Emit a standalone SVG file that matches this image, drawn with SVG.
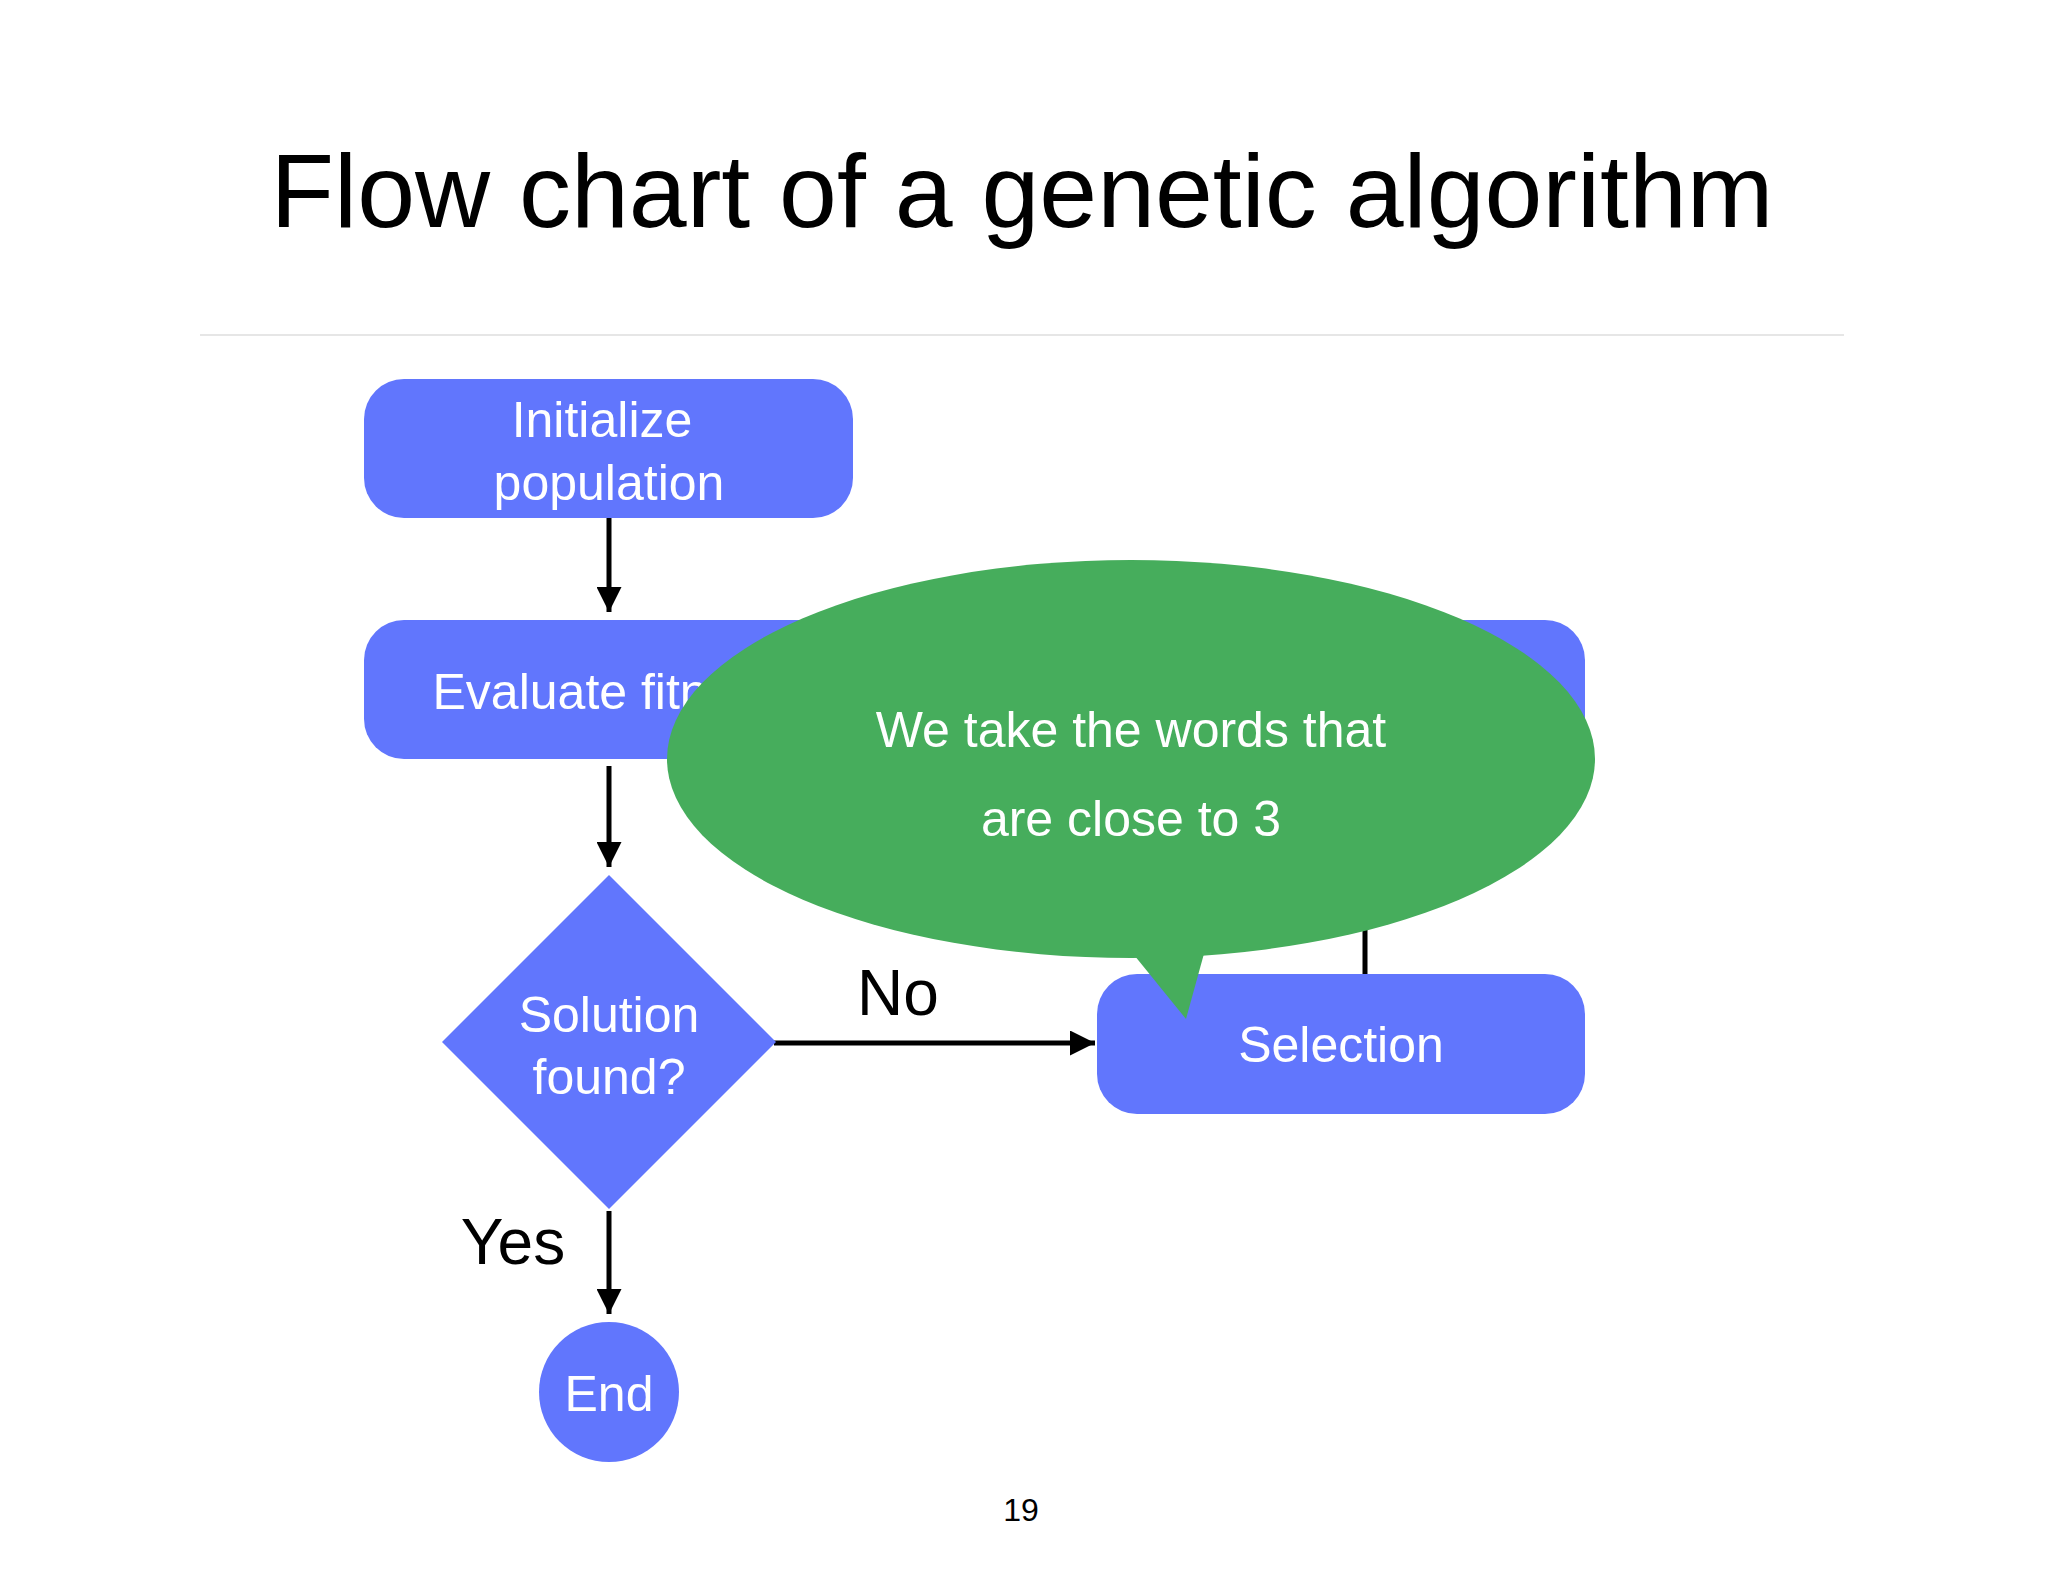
<svg xmlns="http://www.w3.org/2000/svg" width="2048" height="1582" viewBox="0 0 2048 1582">
<style>
.n{fill:#6176FD}
.t{font-family:"Liberation Sans",Arial,sans-serif;fill:#fff;text-anchor:middle;font-size:50px}
.k{font-family:"Liberation Sans",Arial,sans-serif;fill:#000;text-anchor:middle}
.c{stroke:#000;stroke-width:5;fill:none}
</style>
<defs><marker id="a" viewBox="0 0 10 10" refX="10" refY="5" markerWidth="5" markerHeight="5" orient="auto" markerUnits="strokeWidth"><path d="M0,0L10,5L0,10z" fill="#000"/></marker></defs>
<rect width="2048" height="1582" fill="#fff"/>
<text class="k" x="1022" y="227" font-size="104">Flow chart of a genetic algorithm</text>
<line x1="200" y1="335" x2="1844" y2="335" stroke="#e6e6e6" stroke-width="2"/>
<g id="connectors">
<line class="c" x1="609" y1="518" x2="609" y2="612" marker-end="url(#a)"/>
<line class="c" x1="609" y1="766" x2="609" y2="867" marker-end="url(#a)"/>
<line class="c" x1="774" y1="1043" x2="1095" y2="1043" marker-end="url(#a)"/>
<line class="c" x1="609" y1="1211" x2="609" y2="1314" marker-end="url(#a)"/>
<line class="c" x1="1365" y1="759" x2="1365" y2="974"/>
<text class="k" x="898" y="1015" font-size="64">No</text>
<text class="k" x="513" y="1264" font-size="64">Yes</text>
</g>
<g id="init"><rect class="n" x="364" y="379" width="489" height="139" rx="40"/><text class="t" x="602" y="437">Initialize</text><text class="t" x="609" y="500">population</text></g>
<g id="eval"><rect class="n" x="364" y="620" width="489" height="139" rx="40"/><text class="t" x="609" y="709">Evaluate fitness</text></g>
<g id="right"><rect class="n" x="1097" y="620" width="488" height="139" rx="40"/></g>
<g id="decision"><polygon class="n" points="609,875 776,1042 609,1209 442,1042"/><text class="t" x="609" y="1032">Solution</text><text class="t" x="609" y="1094">found?</text></g>
<g id="selection"><rect class="n" x="1097" y="974" width="488" height="140" rx="40"/><text class="t" x="1341" y="1062">Selection</text></g>
<g id="end"><circle class="n" cx="609" cy="1392" r="70"/><text class="t" x="609" y="1411">End</text></g>
<g id="callout">
<ellipse cx="1131" cy="759" rx="464" ry="199" fill="#46AD5C"/>
<polygon points="1130,950 1186,1019 1205,950" fill="#46AD5C"/>
<text class="t" x="1131" y="747" font-size="76">We take the words that</text>
<text class="t" x="1131" y="836" font-size="76">are close to 3</text>
</g>
<text class="k" x="1021" y="1521" font-size="32">19</text>
</svg>
